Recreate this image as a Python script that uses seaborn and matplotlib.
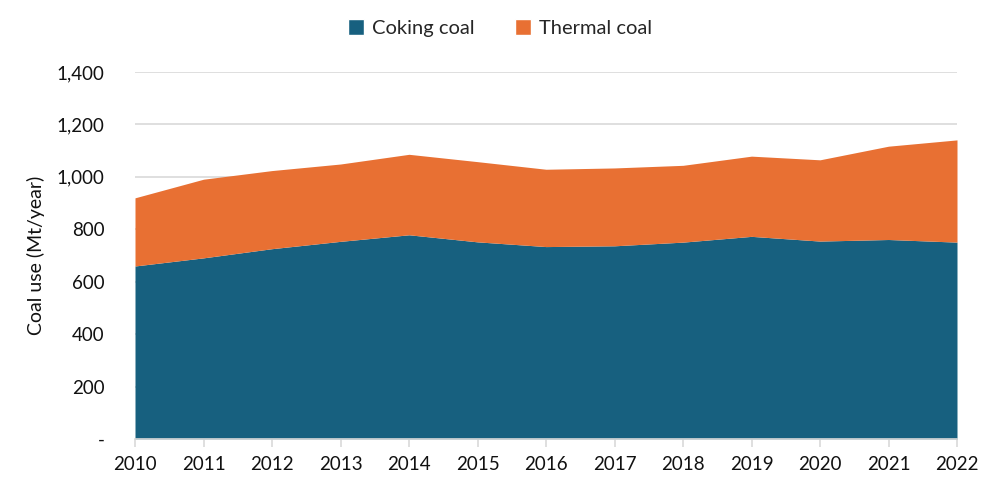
import numpy as np
import pandas as pd
import seaborn as sns
import matplotlib.pyplot as plt
from matplotlib.ticker import FuncFormatter
from matplotlib.patches import Patch

## chart data (Mt/year)
years = [2010, 2011, 2012, 2013, 2014, 2015, 2016,
         2017, 2018, 2019, 2020, 2021, 2022]
coking_coal = [660, 691, 726, 754, 779, 752, 734,
               737, 751, 773, 755, 761, 751]
total_coal = [920, 991, 1024, 1049, 1086, 1058, 1029,
              1034, 1044, 1079, 1065, 1117, 1141]
thermal_coal = [t - c for t, c in zip(total_coal, coking_coal)]

df = pd.DataFrame({'year': years,
                   'Coking coal': coking_coal,
                   'Thermal coal': thermal_coal})

## style
sns.set_theme(style='white')
plt.rcParams['font.family'] = ['Lato', 'DejaVu Sans']

colors = ['#17607f', '#e87033']

fig = plt.figure(figsize=(10, 5), dpi=100)
ax = fig.add_axes([0.135, 0.122, 0.822, 0.734])

ax.stackplot(df['year'], df['Coking coal'], df['Thermal coal'],
             colors=colors, linewidth=0, zorder=2)

## axes
ax.set_xlim(2010, 2022)
ax.set_ylim(0, 1400)
ax.set_xticks(years)
ax.set_yticks(range(0, 1401, 200))
ax.yaxis.set_major_formatter(
    FuncFormatter(lambda v, p: '-' if v == 0 else f'{int(v):,}'))

ax.grid(axis='y', color='#d9d9d9', linewidth=1.2, zorder=0)
ax.set_axisbelow(True)
sns.despine(ax=ax, left=True, top=True, right=True)
ax.spines['bottom'].set_color('#d9d9d9')
ax.spines['bottom'].set_linewidth(1.2)

ax.tick_params(axis='x', which='major', length=6, width=1.2,
               color='#d9d9d9', direction='out', bottom=True,
               labelsize=13.5, pad=6, labelcolor='#111111')
ax.tick_params(axis='y', length=0, labelsize=13.5, pad=22,
               labelcolor='#111111')

ax.set_ylabel('Coal use (Mt/year)', fontsize=14, color='#111111',
              labelpad=8)

## legend on top
handles = [Patch(facecolor=colors[0], label='Coking coal'),
           Patch(facecolor=colors[1], label='Thermal coal')]
fig.legend(handles=handles, loc='center', bbox_to_anchor=(0.5, 0.944),
           ncol=2, frameon=False, fontsize=14.5, handlelength=0.8,
           handleheight=0.8, handletextpad=0.4, columnspacing=2.0)

plt.savefig('out.png', dpi=100)
plt.close()
